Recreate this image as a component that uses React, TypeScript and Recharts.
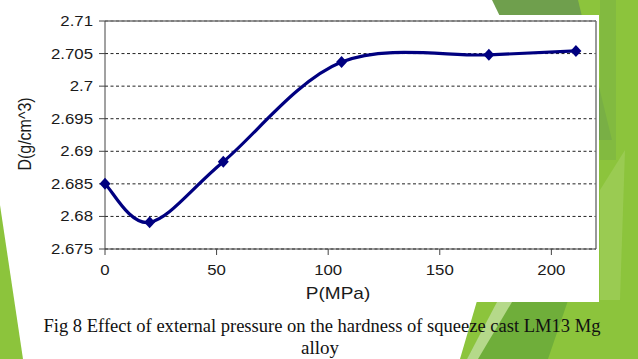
import { LineChart, Line, XAxis, YAxis, CartesianGrid, ReferenceLine } from 'recharts';

// P (MPa) vs density
const pressure = [0, 20, 53, 106, 172, 211];
const density = [2.685, 2.6791, 2.6884, 2.7037, 2.7048, 2.7054];

const xTicks = [0, 50, 100, 150, 200];
const yTicks = [2.675, 2.68, 2.685, 2.69, 2.695, 2.7, 2.705, 2.71];
const yTickLabels = ['2.675', '2.68', '2.685', '2.69', '2.695', '2.7', '2.705', '2.71'];

const xTitle = 'P(MPa)';
const yTitle = 'D(g/cm^3)';
const captionLines = ['Fig 8 Effect of external pressure on the hardness of squeeze cast LM13 Mg', 'alloy'];

const data = pressure.map((p, i) => ({ p, d: density[i] }));

const SANS = '"Liberation Sans", Arial, sans-serif';
const SERIF = '"Liberation Serif", "Times New Roman", serif';

// spreadsheet-style smoothed line (Catmull-Rom as cubic beziers)
function smoothCurve(context: any) {
  let pts: number[][] = [];
  return {
    areaStart() {},
    areaEnd() {},
    lineStart() {
      pts = [];
    },
    point(x: number, y: number) {
      pts.push([+x, +y]);
    },
    lineEnd() {
      if (!pts.length) return;
      context.moveTo(pts[0][0], pts[0][1]);
      for (let i = 0; i < pts.length - 1; i++) {
        const p0 = pts[Math.max(0, i - 1)];
        const p1 = pts[i];
        const p2 = pts[i + 1];
        const p3 = pts[Math.min(pts.length - 1, i + 2)];
        context.bezierCurveTo(
          p1[0] + (p2[0] - p0[0]) / 6,
          p1[1] + (p2[1] - p0[1]) / 6,
          p2[0] - (p3[0] - p1[0]) / 6,
          p2[1] - (p3[1] - p1[1]) / 6,
          p2[0],
          p2[1],
        );
      }
    },
  };
}

function YTick({ x, y, payload }: any) {
  const i = yTicks.indexOf(payload.value);
  return (
    <g transform={`translate(${x},${y})`}>
      <text textAnchor="end" dy="0.36em" transform="scale(1.2,1)" fontSize={14} fontFamily={SANS} fill="#1a1a1a">
        {i >= 0 ? yTickLabels[i] : payload.value}
      </text>
    </g>
  );
}

function XTick({ x, y, payload }: any) {
  return (
    <g transform={`translate(${x},${y})`}>
      <text textAnchor="middle" dy="0.71em" transform="scale(1.2,1)" fontSize={14} fontFamily={SANS} fill="#1a1a1a">
        {payload.value}
      </text>
    </g>
  );
}

function Diamond({ cx, cy, index }: any) {
  return (
    <polygon
      key={`dm-${index}`}
      points={`${cx},${cy - 6} ${cx + 5.5},${cy} ${cx},${cy + 6} ${cx - 5.5},${cy}`}
      fill="#000080"
    />
  );
}

export default function App() {
  return (
    <div style={{ position: 'fixed', left: 0, top: 0, width: 638, height: 359, background: '#fff', overflow: 'hidden' }}>
      {/* slide decoration */}
      <svg width={638} height={359} style={{ position: 'absolute', left: 0, top: 0 }}>
        <polygon points="0,205 23,359 0,359" fill="#8cc43c" />
        <polygon points="565,0 638,0 638,359 460,359" fill="#8cc43c" />
        <polygon points="492,0 578,0 612,140 560,140" fill="#6f9f4d" />
        <polygon points="600,0 616,0 616,160 600,160" fill="#7eb741" opacity={0.7} />
        <polygon points="505,290 575,280 548,359 467,359" fill="#6fae3a" />
        <polygon points="497,302 512,302 478,359 467,359" fill="#b5d98a" />
        <polygon points="600,190 625,150 620,300 600,300" fill="#a3d060" opacity={0.6} />
      </svg>
      <div style={{ position: 'absolute', left: 30, top: 15, width: 569, height: 287, background: '#fff' }} />
      <div style={{ position: 'absolute', left: 0, top: 0 }}>
        <LineChart width={638} height={300} data={data} margin={{ top: 21, right: 42, bottom: 21, left: 0 }}>
          <CartesianGrid vertical={false} stroke="#222" strokeDasharray="3 2.5" />
          <XAxis
            type="number"
            dataKey="p"
            domain={[0, 220]}
            ticks={xTicks}
            height={30}
            tickSize={6}
            tickMargin={10}
            stroke="#444"
            tick={<XTick />}
          />
          <YAxis
            type="number"
            domain={[2.675, 2.71]}
            ticks={yTicks}
            width={105}
            tickSize={6}
            tickMargin={6}
            stroke="#444"
            tick={<YTick />}
          />
          <ReferenceLine y={2.71} stroke="#777" strokeWidth={1.5} />
          <ReferenceLine x={220} stroke="#777" strokeWidth={1.5} />
          <Line
            type={smoothCurve as any}
            dataKey="d"
            stroke="#000080"
            strokeWidth={3.2}
            dot={<Diamond />}
            activeDot={false}
            isAnimationActive={false}
          />
        </LineChart>
      </div>
      {/* axis titles and caption */}
      <svg width={638} height={359} style={{ position: 'absolute', left: 0, top: 0, pointerEvents: 'none' }}>
        <text
          transform="translate(31,134) rotate(-90) scale(1,1.2)"
          textAnchor="middle"
          fontSize={16}
          fontFamily={SANS}
          fill="#1a1a1a"
        >
          {yTitle}
        </text>
        <text transform="translate(338,299) scale(1.12,1)" textAnchor="middle" fontSize={17} fontFamily={SANS} fill="#1a1a1a">
          {xTitle}
        </text>
        <text x={322} y={332} textAnchor="middle" fontSize={19} fontFamily={SERIF} fill="#111" textLength={557} lengthAdjust="spacingAndGlyphs">
          {captionLines[0]}
        </text>
        <text x={320} y={354} textAnchor="middle" fontSize={19} fontFamily={SERIF} fill="#111">
          {captionLines[1]}
        </text>
      </svg>
    </div>
  );
}
